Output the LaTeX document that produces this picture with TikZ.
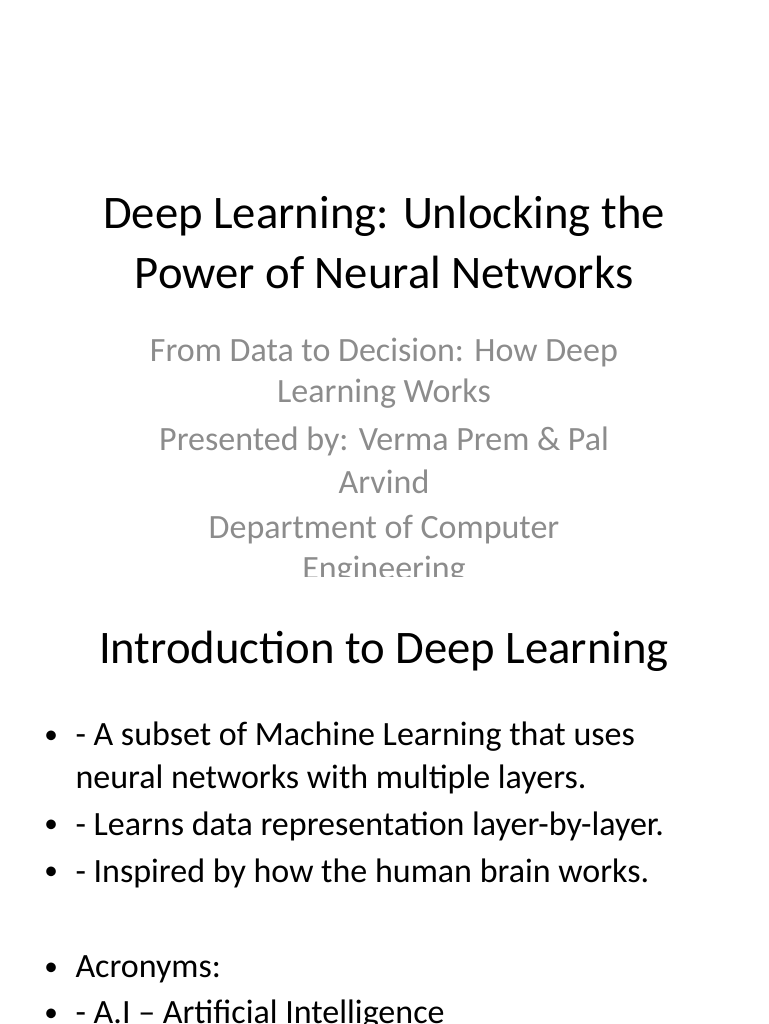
\documentclass[tikz,border=0pt]{standalone}
\usepackage{fontspec}
\setmainfont{Carlito}
\tikzset{every picture/.style={line width=0.75pt}}
\tikzset{
  title/.style={anchor=center,inner sep=0pt,font=\fontsize{35}{47}\selectfont,align=center},
  subline/.style={anchor=center,inner sep=0pt,text=gray!90,font=\fontsize{25.5}{34}\selectfont,align=center},
  bullet/.style={anchor=west,inner sep=0pt,font=\fontsize{25.5}{34}\selectfont}
}
\begin{document}
\begin{tikzpicture}[x=0.75pt,y=0.75pt,yscale=-1,xscale=1]
\useasboundingbox (0,0) rectangle (768,1024);
% first slide
\node[title] (t1) at (384,216) {Deep Learning: Unlocking the};
\node[title] (t2) at (384,272) {Power of Neural Networks};
\begin{scope}
\clip (0,320) rectangle (768,576);
\node[subline] (s1) at (384,353) {From Data to Decision: How Deep};
\node[subline] (s2) at (384,394) {Learning Works};
\node[subline] (s3) at (384,441) {Presented by: Verma Prem \& Pal};
\node[subline] (s4) at (384,482) {Arvind};
\node[subline] (s5) at (384,530) {Department of Computer};
\node[subline] (s6) at (384,571) {Engineering};
\end{scope}
% second slide
\node[title] (h) at (384,651) {Introduction to Deep Learning};
\begin{scope}
\clip (0,700) rectangle (768,1024);
\node[bullet,scale=0.8] (b1) at (44,737) {•};
\node[bullet] (l1) at (75,737) {- A subset of Machine Learning that uses};
\node[bullet] (l1b) at (75,779) {neural networks with multiple layers.};
\node[bullet,scale=0.8] (b2) at (44,826) {•};
\node[bullet] (l2) at (75,826) {- Learns data representation layer-by-layer.};
\node[bullet,scale=0.8] (b3) at (44,873) {•};
\node[bullet] (l3) at (75,873) {- Inspired by how the human brain works.};
\node[bullet,scale=0.8] (b4) at (44,969) {•};
\node[bullet] (l4) at (75,969) {Acronyms:};
\node[bullet,scale=0.8] (b5) at (44,1015) {•};
\node[bullet] (l5) at (75,1015) {- A.I – Artificial Intelligence};
\end{scope}
\end{tikzpicture}
\end{document}
